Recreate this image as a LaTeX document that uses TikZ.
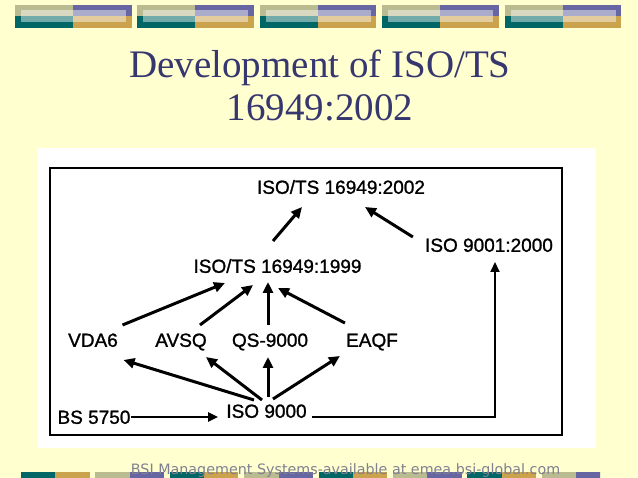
\documentclass[tikz,border=0pt]{standalone}
\usepackage{fontspec}
\setmainfont{Liberation Serif}
\setsansfont{Liberation Sans}
\newfontface\lblfont{Liberation Sans}[FakeBold=1.2]
\newfontfamily\footfont{DejaVu Sans}
\usetikzlibrary{arrows.meta}

\definecolor{bgyellow}{RGB}{255,255,208}
\definecolor{titleblue}{RGB}{55,55,112}
\definecolor{barolive}{RGB}{187,187,145}
\definecolor{barpurple}{RGB}{102,102,163}
\definecolor{barteal}{RGB}{0,102,102}
\definecolor{bargold}{RGB}{204,163,77}
\definecolor{footgray}{RGB}{128,128,145}

\tikzset{
  lbl/.style={font=\lblfont\fontsize{19}{22}\selectfont, inner sep=0pt,
    text height=13.6pt, text depth=0pt},
  heading/.style={font=\fontsize{39}{43}\selectfont, text=titleblue, inner sep=0pt},
  arr/.style={line width=3pt, -{Triangle[length=11pt,width=10pt]}},
  thinarr/.style={line width=2pt, -{Triangle[length=10pt,width=9pt]}}
}

\begin{document}
\begin{tikzpicture}[x=1pt,y=-1pt]
				\useasboundingbox (0,0) rectangle (638,478);
				\fill[bgyellow] (0,0) rectangle (638,478);
				
				% Top bars
				\foreach \i [evaluate=\i as \bx using 15+122.4*\i] in {0,...,4} {
					\fill[barolive] (\bx,5) rectangle ++(58,11.5);
					\fill[barpurple] (\bx+58,5) rectangle ++(58.5,11.5);
					\fill[barteal] (\bx,16.5) rectangle ++(58,11.5);
					\fill[bargold] (\bx+58,16.5) rectangle ++(58.5,11.5);
					\fill[white,opacity=0.45] (\bx+6,10.5) rectangle ++(105,12);
				}
				
				% Bottom bars
				\begin{scope}
					\clip (0,460) rectangle (600,478);
					\foreach \j [evaluate=\j as \cx using 21+74.4*\j] in {0,2,4,6} {
						\fill[barteal] (\cx,472) rectangle ++(34.3,6);
						\fill[bargold] (\cx+34.3,472) rectangle ++(34.3,6);
					}
					\foreach \j [evaluate=\j as \cx using 21+74.4*\j] in {1,3,5,7} {
						\fill[barolive] (\cx,472) rectangle ++(34.3,6);
						\fill[barpurple] (\cx+34.3,472) rectangle ++(34.3,6);
					}
				\end{scope}
				
				% Title
				\node[heading, anchor=base] (title1) at (320,78) {Development of ISO/TS};
				\node[heading, anchor=base] (title2) at (320,121) {16949:2002};
				
				% Panel and frame
				\fill[white] (37,148) rectangle (596,448);
				\draw[line width=2.2pt] (50,168) rectangle (562,435);
				
				% Standards
				\node[lbl] (ts2002) at (341,187) {ISO/TS 16949:2002};
				\node[lbl] (iso9001) at (489,245) {ISO 9001:2000};
				\node[lbl] (ts1999) at (277.5,266) {ISO/TS 16949:1999};
				
				\node[lbl] (vda) at (93,340) {VDA6};
				\node[lbl] (avsq) at (181,340) {AVSQ};
				\node[lbl] (qs) at (270,340) {QS-9000};
				\node[lbl] (eaqf) at (372,340) {EAQF};
				
				\node[lbl] (iso9000) at (266.5,411) {ISO 9000};
				\node[lbl] (bs5750) at (94,417) {BS 5750};
				
				% Arrows to 16949:2002
				\draw[arr] ([xshift=-4.5pt,yshift=18pt]ts1999.north) -- ([xshift=-39pt,yshift=-13pt]ts2002.south);
				\draw[arr] ([xshift=-12pt,yshift=1pt]iso9001.north west) -- ([xshift=24pt,yshift=-13pt]ts2002.south);
				
				% Arrows to 16949:1999
				\draw[arr] ([xshift=4.5pt,yshift=8pt]vda.north east) -- ([xshift=-52.5pt,yshift=-10pt]ts1999.south);
				\draw[arr] ([xshift=19pt,yshift=8pt]avsq.north) -- ([xshift=-24.5pt,yshift=-12pt]ts1999.south);
				\draw[arr] ([xshift=-2pt,yshift=8pt]qs.north) -- ([xshift=-9.5pt,yshift=-9pt]ts1999.south);
				\draw[arr] ([xshift=-1pt,yshift=10pt]eaqf.north west) -- ([xshift=0.5pt,yshift=-15pt]ts1999.south);
				
				% Arrows from ISO 9000
				\draw[arr] ([xshift=-12.5pt,yshift=4pt]iso9000.north) -- ([xshift=5.5pt,yshift=-13pt]vda.south east);
				\draw[arr] ([xshift=-4.5pt,yshift=4pt]iso9000.north) -- ([xshift=25pt,yshift=-10pt]avsq.south);
				\draw[arr] ([xshift=1.5pt,yshift=7pt]iso9000.north) -- ([xshift=-2pt,yshift=-10pt]qs.south);
				\draw[arr] ([xshift=6.5pt,yshift=5pt]iso9000.north) -- ([xshift=-6pt,yshift=-9pt]eaqf.south west);
				
				% BS 5750 and the line round to 9001
				\draw[thinarr] (bs5750.east) -- ([xshift=-8pt]iso9000.west |- bs5750.east);
				\draw[thinarr] ([xshift=5pt]iso9000.east |- bs5750.east) -| ([xshift=6pt,yshift=-10pt]iso9001.south);
				
				% Footer
				\node[font=\footfont\fontsize{14.3}{16}\selectfont, text=footgray, inner sep=0pt, anchor=base] (footer) at (345.5,475) {BSI Management Systems-available at emea.bsi-global.com};
			\end{tikzpicture}
\end{document}
